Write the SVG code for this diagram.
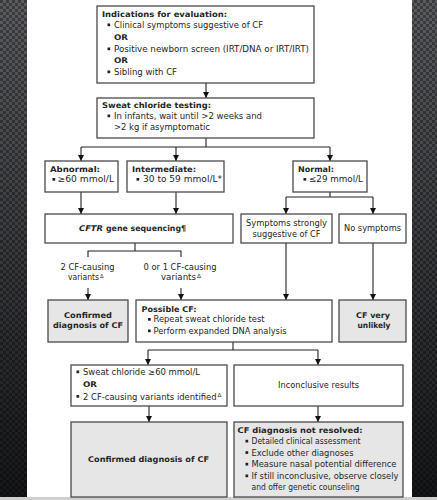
<svg xmlns="http://www.w3.org/2000/svg" width="437" height="500" viewBox="0 0 437 500">
<defs>
<linearGradient id="bg" x1="0" y1="0" x2="0" y2="1">
<stop offset="0" stop-color="#5a5c60"/>
<stop offset="0.55" stop-color="#34363a"/>
<stop offset="1" stop-color="#151619"/>
</linearGradient>
<pattern id="dots" width="6" height="6" patternUnits="userSpaceOnUse">
<rect x="0" y="0" width="3" height="3" fill="#000" fill-opacity="0.35"/>
<rect x="3" y="3" width="3" height="3" fill="#000" fill-opacity="0.35"/>
</pattern>
<marker id="ah" markerUnits="userSpaceOnUse" markerWidth="7" markerHeight="7" refX="6" refY="3.5" orient="auto">
<path d="M0,0.5 L6,3.5 L0,6.5 z" fill="#111"/>
</marker>
<style>
.box{fill:#fff;stroke:#4a4a4a;stroke-width:1.3}
.gray{fill:#e6e6e6;stroke:#4a4a4a;stroke-width:1.3}
text{font-family:"DejaVu Sans","Liberation Sans",sans-serif;font-size:8.2px;fill:#262626}
.b{font-weight:bold;font-size:7.9px}
.c{text-anchor:middle}
.bl{fill:#222}
#connectors line,#connectors polyline{stroke:#222;stroke-width:1.1;fill:none}
.sup{font-size:5.5px}
</style>
</defs>
<rect x="0" y="0" width="437" height="500" fill="url(#bg)"/>
<rect x="0" y="0" width="437" height="500" fill="url(#dots)"/>
<rect x="27" y="0" width="385" height="500" fill="#fff"/>
<rect x="0" y="497" width="437" height="3" fill="#cfcfcf"/>

<g id="connectors">
<line x1="206" y1="83" x2="206" y2="98" marker-end="url(#ah)"/>
<line x1="206" y1="138" x2="206" y2="147"/>
<line x1="81" y1="147" x2="330" y2="147"/>
<line x1="81" y1="147" x2="81" y2="161" marker-end="url(#ah)"/>
<line x1="176" y1="147" x2="176" y2="161" marker-end="url(#ah)"/>
<line x1="330" y1="147" x2="330" y2="161" marker-end="url(#ah)"/>
<line x1="81" y1="192" x2="81" y2="214" marker-end="url(#ah)"/>
<line x1="176" y1="192" x2="176" y2="214" marker-end="url(#ah)"/>
<line x1="330" y1="192" x2="330" y2="197"/>
<line x1="286" y1="197" x2="373" y2="197"/>
<line x1="286" y1="197" x2="286" y2="214" marker-end="url(#ah)"/>
<line x1="373" y1="197" x2="373" y2="214" marker-end="url(#ah)"/>
<line x1="135" y1="243" x2="135" y2="251"/>
<polyline points="88,257 88,251 181,251 181,257"/>
<line x1="88" y1="288" x2="88" y2="300" marker-end="url(#ah)"/>
<line x1="181" y1="288" x2="181" y2="300" marker-end="url(#ah)"/>
<line x1="286" y1="243" x2="286" y2="300" marker-end="url(#ah)"/>
<line x1="373" y1="243" x2="373" y2="300" marker-end="url(#ah)"/>
<line x1="233" y1="342" x2="233" y2="350"/>
<line x1="148" y1="350" x2="318" y2="350"/>
<line x1="148" y1="350" x2="148" y2="365" marker-end="url(#ah)"/>
<line x1="318" y1="350" x2="318" y2="365" marker-end="url(#ah)"/>
<line x1="149" y1="406" x2="149" y2="422" marker-end="url(#ah)"/>
<line x1="318" y1="406" x2="318" y2="422" marker-end="url(#ah)"/>
</g>

<g id="indications">
<rect class="box" x="97" y="6" width="217" height="77"/>
<text class="b" x="102" y="17" textLength="125" lengthAdjust="spacingAndGlyphs">Indications for evaluation:</text>
<rect class="bl" x="107.5" y="23.5" width="2.7" height="2.7"/>
<text x="114" y="28" textLength="149" lengthAdjust="spacingAndGlyphs">Clinical symptoms suggestive of CF</text>
<text class="b" x="114" y="40" textLength="14" lengthAdjust="spacingAndGlyphs">OR</text>
<rect class="bl" x="107.5" y="47.5" width="2.7" height="2.7"/>
<text x="114" y="52" textLength="195" lengthAdjust="spacingAndGlyphs">Positive newborn screen (IRT/DNA or IRT/IRT)</text>
<text class="b" x="114" y="63" textLength="14" lengthAdjust="spacingAndGlyphs">OR</text>
<rect class="bl" x="107.5" y="70.5" width="2.7" height="2.7"/>
<text x="114" y="75" textLength="63" lengthAdjust="spacingAndGlyphs">Sibling with CF</text>
</g>

<g id="sweat">
<rect class="box" x="97" y="98" width="217" height="40"/>
<text class="b" x="102" y="108" textLength="109" lengthAdjust="spacingAndGlyphs">Sweat chloride testing:</text>
<rect class="bl" x="107.5" y="114.5" width="2.7" height="2.7"/>
<text x="114" y="119" textLength="148" lengthAdjust="spacingAndGlyphs">In infants, wait until &gt;2 weeks and</text>
<text x="114" y="130" textLength="96" lengthAdjust="spacingAndGlyphs">&gt;2 kg if asymptomatic</text>
</g>

<g id="abnormal">
<rect class="box" x="45" y="161" width="73" height="31"/>
<text class="b" x="50" y="172" textLength="50" lengthAdjust="spacingAndGlyphs">Abnormal:</text>
<rect class="bl" x="52.5" y="178" width="2.7" height="2.7"/>
<text x="57.5" y="182" textLength="56.5" lengthAdjust="spacingAndGlyphs">≥60 mmol/L</text>
</g>

<g id="intermediate">
<rect class="box" x="127" y="161" width="97" height="31"/>
<text class="b" x="132" y="172" textLength="64" lengthAdjust="spacingAndGlyphs">Intermediate:</text>
<rect class="bl" x="136.5" y="178" width="2.7" height="2.7"/>
<text x="143" y="182" textLength="79" lengthAdjust="spacingAndGlyphs">30 to 59 mmol/L*</text>
</g>

<g id="normal">
<rect class="box" x="293" y="161" width="74" height="31"/>
<text class="b" x="298" y="172" textLength="36" lengthAdjust="spacingAndGlyphs">Normal:</text>
<rect class="bl" x="303.5" y="178" width="2.7" height="2.7"/>
<text x="309" y="182" textLength="54" lengthAdjust="spacingAndGlyphs">≤29 mmol/L</text>
</g>

<g id="cftr">
<rect class="box" x="45" y="214" width="188" height="29"/>
<text class="b" x="79" y="231" font-style="italic" textLength="24" lengthAdjust="spacingAndGlyphs">CFTR</text>
<text class="b" x="106" y="231" textLength="80" lengthAdjust="spacingAndGlyphs">gene sequencing¶</text>
</g>

<g id="symptoms">
<rect class="box" x="241" y="214" width="91" height="29"/>
<text class="c" x="286.5" y="226" textLength="81" lengthAdjust="spacingAndGlyphs">Symptoms strongly</text>
<text class="c" x="286.5" y="237" textLength="68" lengthAdjust="spacingAndGlyphs">suggestive of CF</text>
</g>

<g id="nosymptoms">
<rect class="box" x="339" y="214" width="67" height="29"/>
<text class="c" x="372.5" y="231" textLength="57" lengthAdjust="spacingAndGlyphs">No symptoms</text>
</g>

<g id="label2">
<text class="c" x="87.5" y="270" textLength="54" lengthAdjust="spacingAndGlyphs">2 CF-causing</text>
<text x="68" y="280" textLength="35.5" lengthAdjust="spacingAndGlyphs">variants<tspan class="sup" dx="1" dy="-2.5">Δ</tspan></text>
</g>

<g id="label01">
<text class="c" x="180" y="270" textLength="73" lengthAdjust="spacingAndGlyphs">0 or 1 CF-causing</text>
<text x="161" y="280" textLength="40" lengthAdjust="spacingAndGlyphs">variants<tspan class="sup" dx="1" dy="-2.5">Δ</tspan></text>
</g>

<g id="confirmed1">
<rect class="gray" x="48" y="300" width="80" height="42"/>
<text class="b c" x="88" y="318" textLength="48" lengthAdjust="spacingAndGlyphs">Confirmed</text>
<text class="b c" x="88" y="328" textLength="70" lengthAdjust="spacingAndGlyphs">diagnosis of CF</text>
</g>

<g id="possible">
<rect class="box" x="136" y="300" width="196" height="42"/>
<text class="b" x="141.5" y="311.5" textLength="55" lengthAdjust="spacingAndGlyphs">Possible CF:</text>
<rect class="bl" x="148" y="318" width="2.7" height="2.7"/>
<text x="153.5" y="322.3" textLength="111" lengthAdjust="spacingAndGlyphs">Repeat sweat chloride test</text>
<rect class="bl" x="148" y="329.5" width="2.7" height="2.7"/>
<text x="153.5" y="334" textLength="133" lengthAdjust="spacingAndGlyphs">Perform expanded DNA analysis</text>
</g>

<g id="unlikely">
<rect class="gray" x="339" y="300" width="67" height="42"/>
<text class="b c" x="373" y="318" textLength="34" lengthAdjust="spacingAndGlyphs">CF very</text>
<text class="b c" x="374" y="328" textLength="33" lengthAdjust="spacingAndGlyphs">unlikely</text>
</g>

<g id="sweat60">
<rect class="box" x="71" y="365" width="156" height="41"/>
<rect class="bl" x="76.5" y="370.5" width="2.7" height="2.7"/>
<text x="83" y="375" textLength="117" lengthAdjust="spacingAndGlyphs">Sweat chloride ≥60 mmol/L</text>
<text class="b" x="83" y="387.3" textLength="14" lengthAdjust="spacingAndGlyphs">OR</text>
<rect class="bl" x="76.5" y="395" width="2.7" height="2.7"/>
<text x="83" y="399.5" textLength="138.5" lengthAdjust="spacingAndGlyphs">2 CF-causing variants identified<tspan class="sup" dx="1" dy="-3">Δ</tspan></text>
</g>

<g id="inconclusive">
<rect class="box" x="234" y="365" width="169" height="41"/>
<text class="c" x="318.5" y="388" textLength="81" lengthAdjust="spacingAndGlyphs">Inconclusive results</text>
</g>

<g id="confirmed2">
<rect class="gray" x="71" y="422" width="156" height="75"/>
<text class="b c" x="148.5" y="462" textLength="121" lengthAdjust="spacingAndGlyphs">Confirmed diagnosis of CF</text>
</g>

<g id="notresolved">
<rect class="gray" x="234" y="422" width="169" height="75"/>
<text class="b" x="237.5" y="433.3" textLength="125" lengthAdjust="spacingAndGlyphs">CF diagnosis not resolved:</text>
<rect class="bl" x="245.5" y="439.8" width="2.7" height="2.7"/>
<text x="251.5" y="444.3" textLength="109" lengthAdjust="spacingAndGlyphs">Detailed clinical assessment</text>
<rect class="bl" x="245.5" y="451.2" width="2.7" height="2.7"/>
<text x="251.5" y="455.7" textLength="102" lengthAdjust="spacingAndGlyphs">Exclude other diagnoses</text>
<rect class="bl" x="245.5" y="462.8" width="2.7" height="2.7"/>
<text x="251.5" y="467.3" textLength="145" lengthAdjust="spacingAndGlyphs">Measure nasal potential difference</text>
<rect class="bl" x="245.5" y="474.5" width="2.7" height="2.7"/>
<text x="251.5" y="479" textLength="147" lengthAdjust="spacingAndGlyphs">If still inconclusive, observe closely</text>
<text x="251.5" y="489.5" textLength="108" lengthAdjust="spacingAndGlyphs">and offer genetic counseling</text>
</g>
</svg>
